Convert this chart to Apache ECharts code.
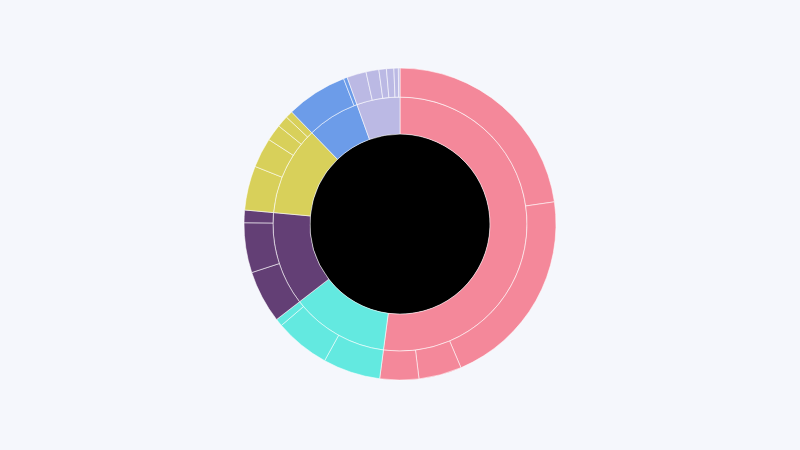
<!DOCTYPE html>
<html>
<head>
<meta charset="utf-8">
<script src="https://cdn.jsdelivr.net/npm/echarts@6/dist/echarts.min.js"></script>
<style>
html,body{margin:0;padding:0;background:#F5F7FC;}
#c{width:800px;height:450px;}
</style>
</head>
<body>
<div id="c"></div>
<script>
// Group names (inner ring) and colours
var groupNames = ['A', 'B', 'C', 'D', 'E', 'F'];
var groupColors = ['#F4889A', '#63E9E0', '#633F75', '#D8D05A', '#6C9CE9', '#BBB9E4'];
// Child values (outer ring) (in degrees of arc)
var childA = [81.8, 75.2, 16.0, 14.5];
var childB = [21.4, 20.6, 2.8];
var childC = [19.6, 18.6, 4.7];
var childD = [16.5, 11.1, 6.2, 4.3, 2.7];
var childE = [22.8, 1.4];
var childF = [7.2, 4.8, 2.8, 2.75, 1.65, 0.6];
var children = [childA, childB, childC, childD, childE, childF];

var groups = groupNames.map(function (n, i) {
  return {
    name: n,
    itemStyle: { color: groupColors[i] },
    children: children[i].map(function (v, j) {
      return { name: n + (j + 1), value: v, itemStyle: { color: groupColors[i] } };
    })
  };
});

var chart = echarts.init(document.getElementById('c'));
chart.setOption({
  backgroundColor: '#F5F7FC',
  series: [{
    type: 'sunburst',
    center: ['50%', '49.8%'],
    radius: [0, 156],
    sort: null,
    nodeClick: false,
    label: { show: false },
    itemStyle: { borderColor: 'rgba(255,255,255,0.55)', borderWidth: 1 },
    emphasis: { disabled: true },
    levels: [
      {},
      { r0: 0, r: 90, itemStyle: { color: '#000000', borderWidth: 0 } },
      { r0: 90, r: 127 },
      { r0: 127, r: 156 }
    ],
    data: [{ name: 'root', itemStyle: { color: '#000000' }, children: groups }]
  }]
});
</script>
</body>
</html>
